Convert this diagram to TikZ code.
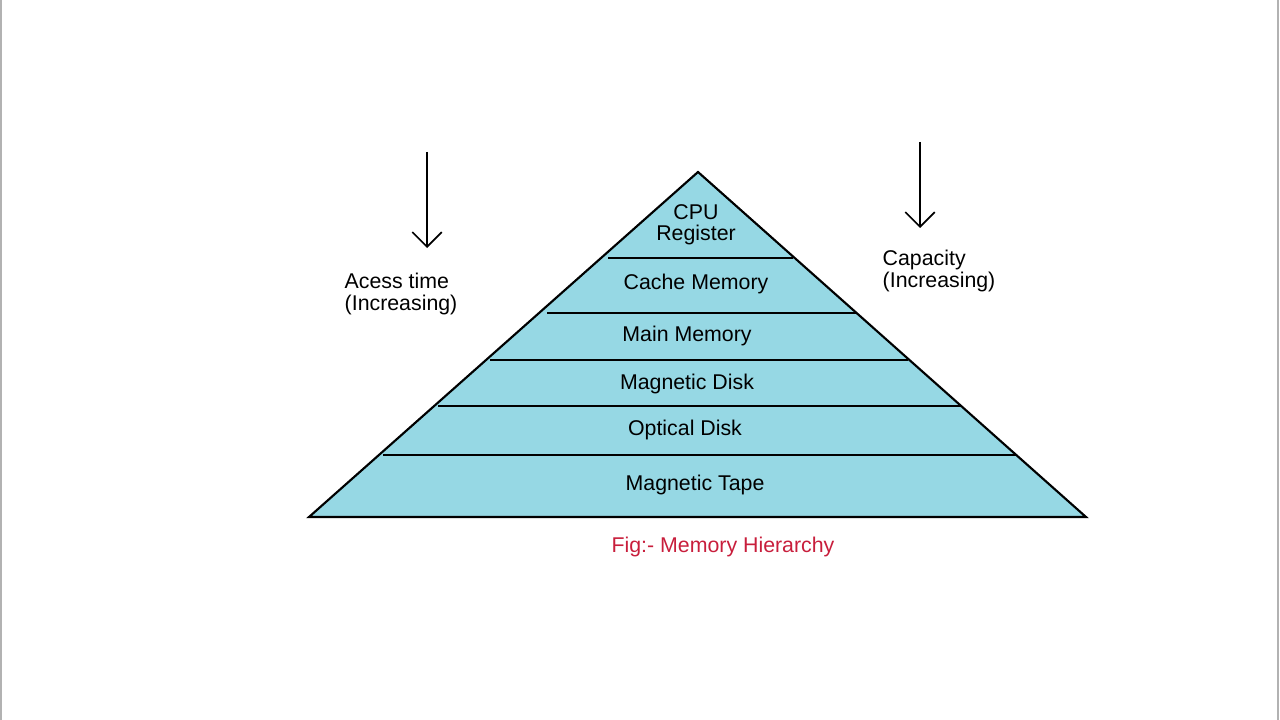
\documentclass[tikz,border=0pt]{standalone}
\usepackage{fontspec}
\setmainfont{Liberation Sans}
\usetikzlibrary{arrows.meta}
\definecolor{pyrfill}{RGB}{150,216,228}
\definecolor{figred}{RGB}{200,30,60}

\begin{document}
\begin{tikzpicture} [
  x=0.75pt, y=-0.75pt,
  layer/.style={font=\fontsize{16}{19}\selectfont, align=center},
  side/.style={font=\fontsize{16}{19}\selectfont, align=left, anchor=west},
  band/.style={line width=1.6pt},
  down/.style={line width=1.3pt, -{Straight Barb[length=11pt, width=22pt, line width=1.3pt]}}
  ]
  \useasboundingbox (0,0) rectangle (1280,720);
  \draw[gray!60, line width=1pt] (1,0) -- (1,720) (1278,0) -- (1278,720);
  % pyramid
  \coordinate (apex) at (698,172);
  \coordinate (bl) at (309,517);
  \coordinate (br) at (1086,517);
  \draw[fill=pyrfill, band] (apex) -- (bl) -- (br) -- cycle;
  \foreach \y/\xl/\xr [count=\i] in {258/608/793, 313/547/856, 360/490/908, 406/438/961, 455/383/1016} {
    \coordinate (l\i) at (\xl,\y);
    \coordinate (r\i) at (\xr,\y);
    \draw[band] (l\i) -- (r\i);
  }
  % layer texts
  \node (cpu)[layer] at (696,225) {CPU\\[-3pt]Register};
  \node (cache)[layer] at (696,284) {Cache Memory};
  \node (main)[layer] at (687,336) {Main Memory};
  \node (mdisk)[layer] at (687,384) {Magnetic Disk};
  \node (odisk)[layer] at (685,430) {Optical Disk};
  \node (tape)[layer] at (695,485) {Magnetic Tape};
  % side labels and arrows
  \node (access)[side] at (340,294) {Acess time\\[-2pt](Increasing)};
  \node (capacity)[side] at (878,271) {Capacity\\[-2pt](Increasing)};
  \coordinate (a1) at (427,152);
  \coordinate (a2) at (427,248);
  \coordinate (c1) at (920,142);
  \coordinate (c2) at (920,228);
  \draw[down] (a1) -- (a2);
  \draw[down] (c1) -- (c2);
  \node (caption)[layer, text=figred] at (723,547) {Fig:- Memory Hierarchy};
\end{tikzpicture}
\end{document}
